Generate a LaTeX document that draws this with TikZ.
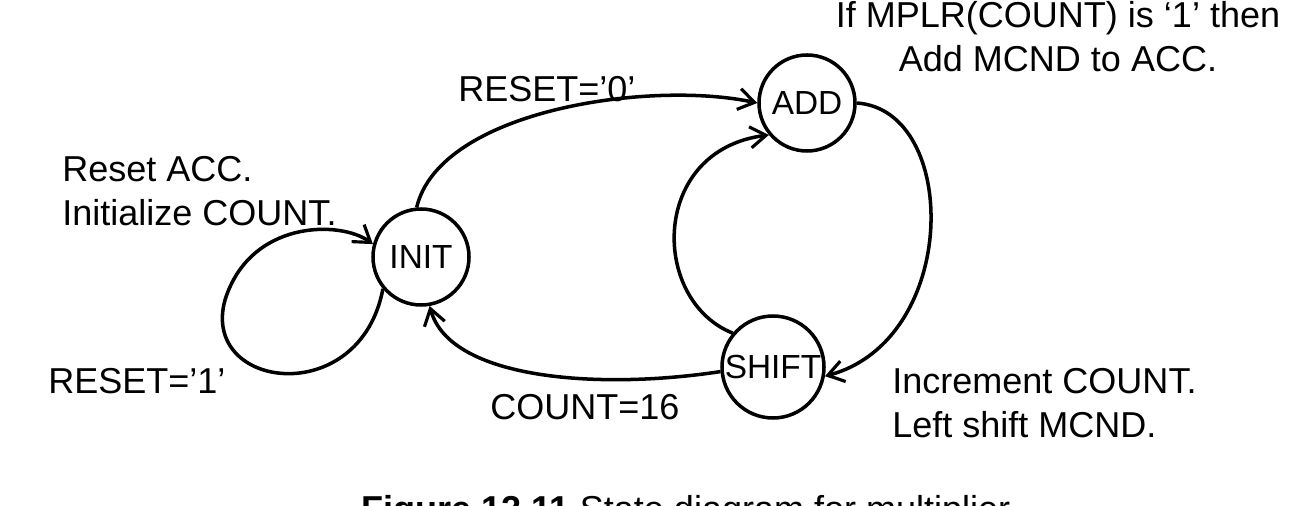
\documentclass[tikz,border=0pt]{standalone}
\usepackage{fontspec}
\setmainfont{Liberation Sans}
\usetikzlibrary{arrows.meta}
\begin{document}
\begin{tikzpicture}[x=0.02cm,y=-0.02cm,
  st/.style={circle,draw,line width=2pt,minimum size=96*0.02cm,inner sep=0pt,font=\fontsize{19}{22}\selectfont},
  tr/.style={line width=2pt,-{Straight Barb[length=9pt,width=12pt,line width=1.8pt]}},
  lb/.style={font=\fontsize{20.5}{25.6}\selectfont,align=left,inner sep=0pt}]
\useasboundingbox (0,0) rectangle (1316,506);
\clip (0,0) rectangle (1316,506);
\node[st] (init) at (421,257) {INIT};
\node[st] (add) at (807,103) {ADD};
\node[st,minimum size=102*0.02cm] (shift) at (773,367) {SHIFT};
\draw[tr] (init.95) .. controls (440,110) and (650,80) .. (add.west);
\draw[tr] (add.east) .. controls (960,110) and (960,340) .. (shift.-10);
\draw[tr] (shift.140) .. controls (650,300) and (650,150) .. (add.-140);
\draw[tr] (shift.185) .. controls (600,390) and (450,380) .. (init.-80);
\draw[tr] (init.-140) .. controls (360,410) and (200,390) .. (225,300) .. controls (250,220) and (340,220) .. (init.165);
\node[lb,anchor=base west] (l0) at (458,102) {RESET=’0’};
\node[lb,anchor=base west] (l1) at (48,394) {RESET=’1’};
\node[lb,anchor=base west] (l2) at (490,420) {COUNT=16};
\node[lb,anchor=base west] (t1) at (62,226) {Reset ACC.\\Initialize COUNT.};
\node[lb,align=center,anchor=base] (t2) at (1058,72) {If MPLR(COUNT) is ‘1’ then\\Add MCND to ACC.};
\node[lb,anchor=base west] (t3) at (892,438) {Increment COUNT.\\Left shift MCND.};
\node[lb,anchor=base] (cap) at (686,522) {\textbf{Figure 12.11} State diagram for multiplier};
\end{tikzpicture}
\end{document}
